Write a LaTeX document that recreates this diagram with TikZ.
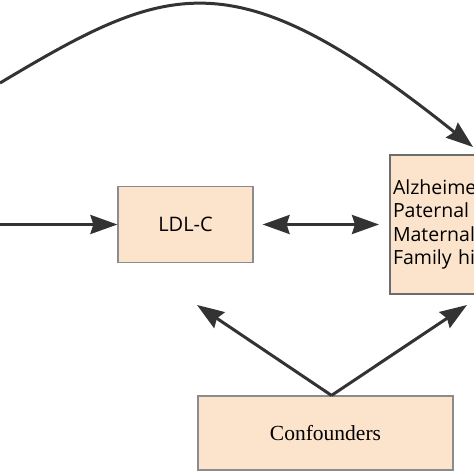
\documentclass[tikz,border=0pt]{standalone}
\usepackage{fontspec}
\usepackage{xcolor}
\usetikzlibrary{arrows.meta,positioning,calc}
\newfontfamily\osans{Open Sans}
\newfontfamily\tserif{Liberation Serif}
\definecolor{peach}{HTML}{FCE4CC}
\definecolor{boxline}{HTML}{8C8C8C}
\definecolor{arrowc}{HTML}{333333}

\begin{document}
\begin{tikzpicture}[
        x=1pt, y=-1pt,
        >={Stealth[length=27pt,width=19pt,inset=3pt]},
        varbox/.style={rectangle,draw=boxline,fill=peach,line width=1.2pt,inner sep=0pt},
        link/.style={draw=arrowc,line width=3pt}
      ]
        \useasboundingbox (0,0) rectangle (474,474);
        \clip (0,0) rectangle (474,474);
        \node[varbox,minimum width=135pt,minimum height=76pt,font=\osans\fontsize{20}{24}\selectfont] (ldl) at (185.5,224.5) {LDL-C};
        \node[varbox,draw=gray!85!black,line width=2pt,minimum width=170pt,minimum height=139pt,
              text width=164pt,inner xsep=3pt,align=left,font=\osans\fontsize{19.5}{23.5}\selectfont] (ad) at (475,224.5)
              {Alzheime\\Paternal\\Maternal\\Family his};
        \node[varbox,minimum width=255pt,minimum height=74pt,font=\tserif\fontsize{21.5}{25}\selectfont] (conf) at (325.5,433) {Confounders};
        % free ends
        \coordinate (expo)  at (-6,224.5);
        \coordinate (curve) at (0,83);
        \coordinate (upl)   at (197,305);
        \coordinate (upr)   at (467,305);
        \draw[link,->] (expo) -- (ldl.west);
        \draw[link,<->,shorten <=9pt,shorten >=10pt] (ldl.east) -- (ad.west);
        \draw[link,->] (curve) .. controls (169,-18) and (233,-45) .. (473,147);
        \draw[link,->] ($(conf.north)+(6,0)$) -- (upl);
        \draw[link,->] ($(conf.north)+(6,0)$) -- (upr);
      \end{tikzpicture}
\end{document}
